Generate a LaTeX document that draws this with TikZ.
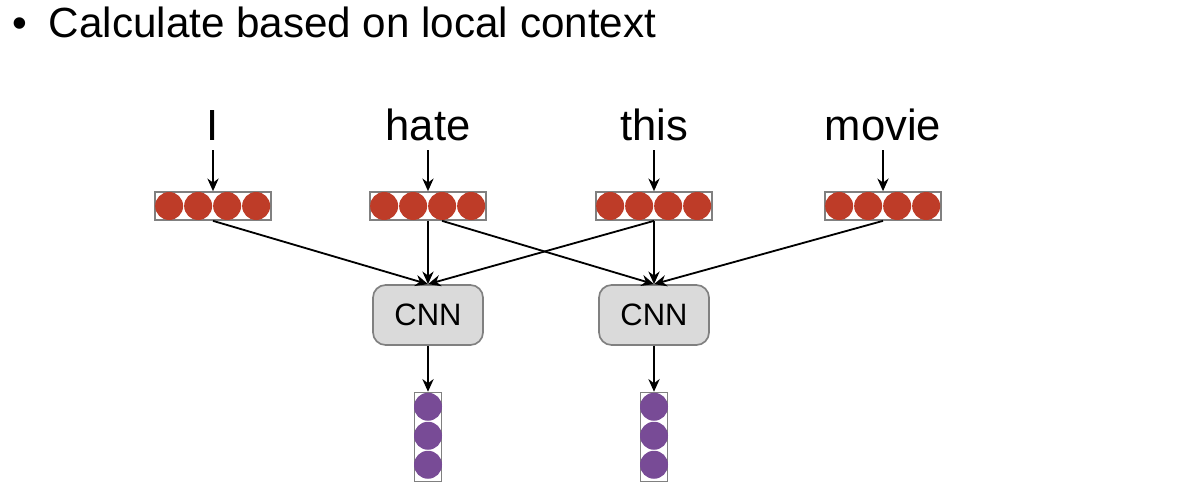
\documentclass[tikz,border=0pt]{standalone}
\usepackage{fontspec}
\setmainfont{Liberation Sans}
\usetikzlibrary{positioning,arrows.meta,calc}
\definecolor{wordred}{RGB}{190,60,40}
\definecolor{outpurple}{RGB}{120,75,150}
\definecolor{boxgray}{RGB}{128,128,128}
\definecolor{cnnfill}{RGB}{218,218,218}
\tikzset{
    word/.style={font=\fontsize{31}{36}\selectfont, anchor=base},
    vec/.style={draw=boxgray, line width=1.2pt, minimum width=2.9cm, minimum height=0.7cm, inner sep=0pt},
    outvec/.style={draw=boxgray, line width=1.2pt, minimum width=0.68cm, minimum height=2.22cm, inner sep=0pt},
    cnn/.style={draw=boxgray, fill=cnnfill, line width=1.2pt, rounded corners=9pt, minimum width=2.75cm, minimum height=1.5cm, font=\fontsize{22}{26}\selectfont},
    arr/.style={-{Stealth[length=9pt,width=8pt]}, line width=1.3pt}
}
\begin{document}
\begin{tikzpicture}[x=0.025cm, y=-0.025cm]
    \useasboundingbox (0,0) rectangle (1200,495);
    \node[anchor=west, font=\fontsize{30}{36}\selectfont] (title) at (8,22) {\textbullet\hspace{0.5em}Calculate based on local context};

    % words and their vectors
    \foreach \name/\x/\txt in {i/213/I, hate/428/hate, this/654/this, movie/883/movie} {
        \node[word] (w\name) at (\x,140) {\txt};
        \node[vec] (v\name) at (\x,206) {};
        \foreach \k in {0,1,2,3}
            \fill[wordred] ($(v\name.west)+(15+\k*29,0)$) circle (14);
        \draw[arr] (\x,150) -- (v\name.north);
    }

    % convolutions
    \node[cnn] (c1) at (428,315) {CNN};
    \node[cnn] (c2) at (654,315) {CNN};

    \draw[arr] (vi.south) -- (c1.north);
    \draw[arr] (vhate.south) -- (c1.north);
    \draw[arr] (vthis.south) -- (c1.north);
    \draw[arr] ([xshift=10]vhate.south) -- (c2.north);
    \draw[arr] (vthis.south) -- (c2.north);
    \draw[arr] (vmovie.south) -- (c2.north);

    % outputs
    \foreach \c/\x in {1/428, 2/654} {
        \node[outvec] (o\c) at (\x,437) {};
        \foreach \k in {0,1,2}
            \fill[outpurple] ($(o\c.north)+(0,15+\k*29)$) circle (14);
        \draw[arr] (c\c.south) -- (o\c.north);
    }
\end{tikzpicture}
\end{document}
